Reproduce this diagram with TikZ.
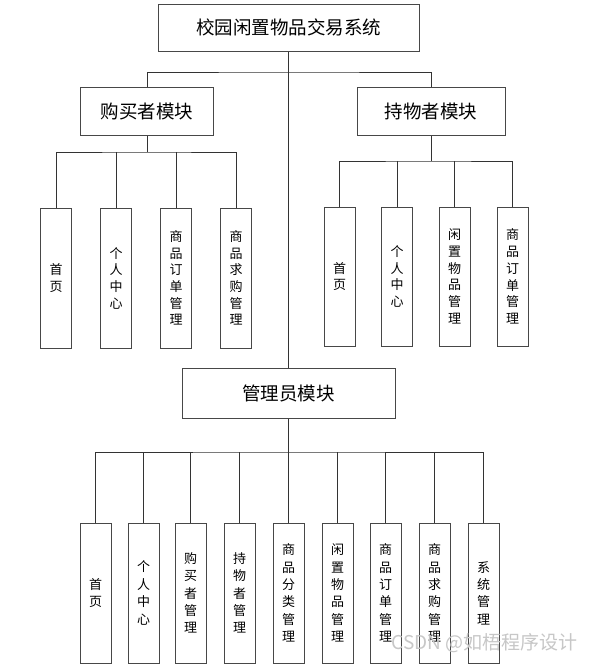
\documentclass[tikz,border=0pt]{standalone}
\usepackage{fontspec}
\setmainfont{Noto Sans CJK SC}
\newfontfamily\cjk{Noto Sans CJK SC}
\begin{document}
\begin{tikzpicture}[x=1pt,y=-1pt,
  boxstyle/.style={draw=black!72,line width=1pt,fill=white,inner sep=0pt,font=\cjk},
  topbox/.style={boxstyle,font=\cjk\fontsize{18.5}{21}\selectfont},
  leafbox/.style={boxstyle,minimum width=31pt,minimum height=140pt,align=center,font=\cjk\fontsize{13}{16.7}\selectfont},
  adleaf/.style={leafbox,font=\cjk\fontsize{13}{17.4}\selectfont},
  conn/.style={draw=black!80,line width=0.9pt},
  wm/.style={text=black!22,font=\cjk\fontsize{19}{22}\selectfont,inner sep=0pt}
]
\useasboundingbox (0,0) rectangle (593,664);
\fill[white] (0,0) rectangle (593,664);

% top level
\node[topbox,minimum width=261pt,minimum height=47pt] (title) at (288.5,27.5) {校园闲置物品交易系统};
\node[topbox,minimum width=133pt,minimum height=48pt] (buyer) at (147,111.5) {购买者模块};
\node[topbox,minimum width=148pt,minimum height=48pt] (holder) at (431,111.5) {持物者模块};
\node[topbox,minimum width=213pt,minimum height=50pt] (admin) at (288.5,393) {管理员模块};

% buyer leaves
\node[leafbox] (b1) at (56,278) {首\\页};
\node[leafbox] (b2) at (116,278) {个\\人\\中\\心};
\node[leafbox] (b3) at (176,278) {商\\品\\订\\单\\管\\理};
\node[leafbox] (b4) at (236,278) {商\\品\\求\\购\\管\\理};

% holder leaves
\node[leafbox,minimum height=139pt] (h1) at (339.5,276.5) {首\\页};
\node[leafbox,minimum height=139pt] (h2) at (397,276.5) {个\\人\\中\\心};
\node[leafbox,minimum height=139pt] (h3) at (454.5,276.5) {闲\\置\\物\\品\\管\\理};
\node[leafbox,minimum height=139pt] (h4) at (512.5,276.5) {商\\品\\订\\单\\管\\理};

% admin leaves
\node[adleaf] (a1) at (95.5,593) {首\\页};
\node[adleaf] (a2) at (143.5,593) {个\\人\\中\\心};
\node[adleaf] (a3) at (190.5,593) {购\\买\\者\\管\\理};
\node[adleaf] (a4) at (239.5,593) {持\\物\\者\\管\\理};
\node[adleaf] (a5) at (288.5,593) {商\\品\\分\\类\\管\\理};
\node[adleaf] (a6) at (337.5,593) {闲\\置\\物\\品\\管\\理};
\node[adleaf] (a7) at (385.5,593) {商\\品\\订\\单\\管\\理};
\node[adleaf] (a8) at (434.5,593) {商\\品\\求\\购\\管\\理};
\node[adleaf] (a9) at (483.5,593) {系\\统\\管\\理};

% bus coordinates
\coordinate (tb) at (288.5,72);
\coordinate (bb) at (147,152);
\coordinate (hb) at (431,161);
\coordinate (ab) at (288.5,452);

% connectors
\draw[conn] (title.south) -- (admin.north);
\draw[conn] (buyer.north) |- (tb) -| (holder.north);

\draw[conn] (buyer.south) -- (bb);
\draw[conn] (b1.north) |- (bb) -| (b4.north);
\draw[conn] (b2.north) -- (b2.north |- bb);
\draw[conn] (b3.north) -- (b3.north |- bb);

\draw[conn] (holder.south) -- (hb);
\draw[conn] (h1.north) |- (hb) -| (h4.north);
\draw[conn] (h2.north) -- (h2.north |- hb);
\draw[conn] (h3.north) -- (h3.north |- hb);

\draw[conn] (admin.south) -- (ab);
\draw[conn] (a1.north) |- (ab) -| (a9.north);
\foreach \i in {2,...,8} {
  \draw[conn] (a\i.north) -- (a\i.north |- ab);
}

% watermark
\node[wm,anchor=east] (wmark) at (578,643) {CSDN @如梧程序设计};
\end{tikzpicture}
\end{document}
